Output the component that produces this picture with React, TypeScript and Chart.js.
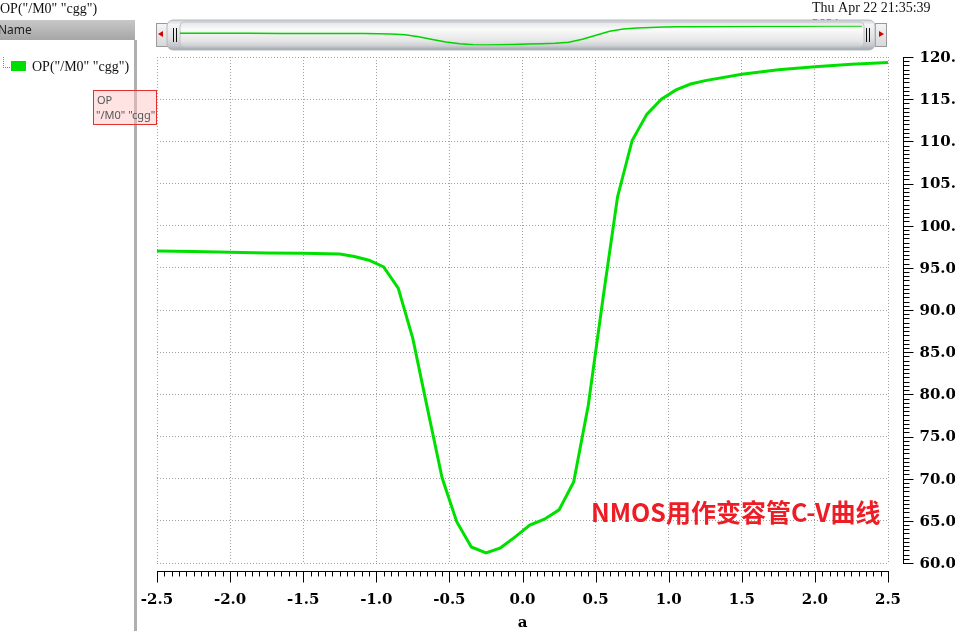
import React, { useEffect, useRef } from "react";
import { Chart, registerables } from "chart.js";

Chart.register(...registerables);

// ---- data ----
const xValues = [
  -2.5, -2.25, -2.0, -1.75, -1.5, -1.25, -1.15, -1.05, -0.95, -0.85, -0.75, -0.65,
  -0.55, -0.45, -0.35, -0.25, -0.15, -0.05, 0.05, 0.15, 0.25, 0.35, 0.45, 0.55,
  0.65, 0.75, 0.85, 0.95, 1.05, 1.15, 1.25, 1.5, 1.75, 2.0, 2.25, 2.5,
];
const cggValues = [
  97.0, 96.95, 96.85, 96.75, 96.72, 96.65, 96.35, 95.9, 95.1, 92.6, 86.6, 78.3,
  70.1, 64.9, 61.9, 61.2, 61.8, 63.1, 64.5, 65.2, 66.3, 69.6, 78.7, 91.3,
  103.4, 110.1, 113.2, 115.0, 116.1, 116.8, 117.2, 117.95, 118.5, 118.85, 119.13, 119.35,
];
const xTickValues = [-2.5, -2.0, -1.5, -1.0, -0.5, 0.0, 0.5, 1.0, 1.5, 2.0, 2.5];
const xTickLabels = ["-2.5", "-2.0", "-1.5", "-1.0", "-0.5", "0.0", "0.5", "1.0", "1.5", "2.0", "2.5"];
const yTickValues = [60, 65, 70, 75, 80, 85, 90, 95, 100, 105, 110, 115, 120];
const yTickLabels = ["60.0", "65.0", "70.0", "75.0", "80.0", "85.0", "90.0", "95.0", "100.0", "105.0", "110.0", "115.0", "120.0"];
const seriesName = 'OP("/M0" "cgg")';
const tooltipLines = ["OP", '"/M0" "cgg"'];
const xAxisTitle = "a";
const annotationText = "NMOS用作变容管C-V曲线";
const dateLine1 = "Thu Apr 22 21:35:39";
const dateLine2 = "2021";
const panelHeader = "Name";

const LINE_GREEN = "#00e000";
const AXIS_FONT = 'bold 15px "DejaVu Serif"';

function drawChrome(chart: any) {
  const ctx: CanvasRenderingContext2D = chart.ctx;
  const xs = chart.scales.x;
  const ys = chart.scales.y;
  const area = chart.chartArea;
  ctx.save();

  // ---- x axis ----
  const axY = Math.round(area.bottom + 8) + 0.5;
  ctx.strokeStyle = "#000";
  ctx.lineWidth = 1;
  ctx.beginPath();
  ctx.moveTo(Math.round(xs.getPixelForValue(xTickValues[0])), axY);
  ctx.lineTo(Math.round(xs.getPixelForValue(xTickValues[xTickValues.length - 1])) + 1, axY);
  for (let i = 0; i < xTickValues.length; i++) {
    const px = Math.round(xs.getPixelForValue(xTickValues[i])) + 0.5;
    ctx.moveTo(px, axY);
    ctx.lineTo(px, axY + 11);
    if (i < xTickValues.length - 1) {
      const step = (xTickValues[i + 1] - xTickValues[i]) / 10;
      for (let k = 1; k < 10; k++) {
        const mx = Math.round(xs.getPixelForValue(xTickValues[i] + step * k)) + 0.5;
        ctx.moveTo(mx, axY);
        ctx.lineTo(mx, axY + 5);
      }
    }
  }
  ctx.stroke();
  ctx.fillStyle = "#000";
  ctx.font = AXIS_FONT;
  ctx.textAlign = "center";
  ctx.textBaseline = "middle";
  xTickValues.forEach((v, i) => {
    ctx.fillText(xTickLabels[i], xs.getPixelForValue(v), 600);
  });
  ctx.textBaseline = "alphabetic";
  ctx.fillText(xAxisTitle, xs.getPixelForValue(0), 627);

  // ---- y axis (right) ----
  const axX = Math.round(area.right + 15) + 0.5;
  ctx.beginPath();
  ctx.moveTo(axX, Math.round(ys.getPixelForValue(yTickValues[yTickValues.length - 1])));
  ctx.lineTo(axX, Math.round(ys.getPixelForValue(yTickValues[0])) + 1);
  for (let i = 0; i < yTickValues.length; i++) {
    const py = Math.round(ys.getPixelForValue(yTickValues[i])) + 0.5;
    ctx.moveTo(axX, py);
    ctx.lineTo(axX + 10, py);
    if (i < yTickValues.length - 1) {
      const step = (yTickValues[i + 1] - yTickValues[i]) / 10;
      for (let k = 1; k < 10; k++) {
        const my = Math.round(ys.getPixelForValue(yTickValues[i] + step * k)) + 0.5;
        ctx.moveTo(axX, my);
        ctx.lineTo(axX + 6, my);
      }
    }
  }
  ctx.stroke();
  ctx.textAlign = "left";
  ctx.textBaseline = "middle";
  yTickValues.forEach((v, i) => {
    ctx.fillText(yTickLabels[i], axX + 16, ys.getPixelForValue(v) + 1);
  });

  // ---- annotation ----
  ctx.fillStyle = "#ee1c25";
  ctx.font = 'bold 25px "Noto Sans CJK SC"';
  ctx.textAlign = "left";
  ctx.textBaseline = "middle";
  ctx.fillText(annotationText, 591, 512);

  // ---- top texts ----
  ctx.fillStyle = "#111";
  ctx.font = '14px "Liberation Serif"';
  ctx.textBaseline = "alphabetic";
  ctx.fillText(seriesName, 0, 13);
  ctx.fillText(dateLine1, 812, 12);
  ctx.fillText(dateLine2, 812, 29);

  // ---- left panel ----
  const hg = ctx.createLinearGradient(0, 20, 0, 40);
  hg.addColorStop(0, "#c8c8c8");
  hg.addColorStop(1, "#a6a6a6");
  ctx.fillStyle = hg;
  ctx.fillRect(0, 20, 135, 20);
  ctx.fillStyle = "#222";
  ctx.font = '12px "Noto Sans"';
  ctx.fillText(panelHeader, -2, 34);
  ctx.fillStyle = "#b0b0b0";
  ctx.fillRect(134, 40, 3, 591);
  // tree dotted connector
  ctx.fillStyle = "#888";
  for (let y = 57; y <= 67; y += 2) ctx.fillRect(3, y, 1, 1);
  for (let x = 3; x <= 10; x += 2) ctx.fillRect(x, 67, 1, 1);
  ctx.fillStyle = "#00dd00";
  ctx.fillRect(11, 61, 15, 10);
  ctx.fillStyle = "#111";
  ctx.font = '14px "Liberation Serif"';
  ctx.fillText(seriesName, 32, 71);

  // ---- scrollbar ----
  const btn = (x0: number, dir: number) => {
    const g = ctx.createLinearGradient(0, 23, 0, 47);
    g.addColorStop(0, "#f6f6f6");
    g.addColorStop(1, "#d6d6d6");
    ctx.fillStyle = g;
    ctx.fillRect(x0, 23, 12, 24);
    ctx.strokeStyle = "#9a9a9a";
    ctx.lineWidth = 1;
    ctx.strokeRect(x0 + 0.5, 23.5, 11, 23);
    ctx.fillStyle = "#d40000";
    ctx.beginPath();
    if (dir < 0) {
      ctx.moveTo(x0 + 2, 34);
      ctx.lineTo(x0 + 7, 31);
      ctx.lineTo(x0 + 7, 37);
    } else {
      ctx.moveTo(x0 + 9, 34);
      ctx.lineTo(x0 + 4, 31);
      ctx.lineTo(x0 + 4, 37);
    }
    ctx.closePath();
    ctx.fill();
  };
  btn(156, -1);
  btn(875, 1);
  // thumb
  const tg = ctx.createLinearGradient(0, 20, 0, 50);
  tg.addColorStop(0, "#cdd1d8");
  tg.addColorStop(0.15, "#f4f4f4");
  tg.addColorStop(0.6, "#e2e2e2");
  tg.addColorStop(0.85, "#c4c7cc");
  tg.addColorStop(1, "#a2a6ae");
  ctx.fillStyle = tg;
  ctx.beginPath();
  (ctx as any).roundRect(167, 20, 708, 30, 6);
  ctx.fill();
  ctx.strokeStyle = "#b4b8c0";
  ctx.stroke();
  // inner channel
  const ig = ctx.createLinearGradient(0, 22, 0, 47);
  ig.addColorStop(0, "#e4e4e4");
  ig.addColorStop(0.3, "#fafafa");
  ig.addColorStop(0.75, "#e6e6e6");
  ig.addColorStop(1, "#c8cacd");
  ctx.fillStyle = ig;
  ctx.beginPath();
  (ctx as any).roundRect(180, 22, 684, 25, 4);
  ctx.fill();
  ctx.strokeStyle = "#bfc2c8";
  ctx.stroke();
  // grips
  ctx.fillStyle = "#111";
  ctx.fillRect(173, 28, 1, 14);
  ctx.fillRect(176, 28, 1, 14);
  ctx.fillRect(866, 28, 1, 14);
  ctx.fillRect(869, 28, 1, 14);

  // ---- tooltip box ----
  ctx.fillStyle = "rgba(255, 190, 190, 0.45)";
  ctx.fillRect(93, 90, 64, 35);
  ctx.strokeStyle = "#e03030";
  ctx.lineWidth = 1;
  ctx.strokeRect(93.5, 90.5, 63, 34);
  ctx.fillStyle = "#555";
  ctx.font = '11px "Noto Sans"';
  ctx.fillText(tooltipLines[0], 97, 104);
  ctx.fillText(tooltipLines[1], 96, 119);

  ctx.restore();
}

export default function App() {
  const mainRef = useRef<HTMLCanvasElement>(null);
  const miniRef = useRef<HTMLCanvasElement>(null);

  useEffect(() => {
    const points = xValues.map((x, i) => ({ x, y: cggValues[i] }));
    const gridCfg = { color: "#a0a0a0", lineWidth: 1, drawTicks: false };
    const borderCfg = { display: false, dash: [1, 2] };
    const main = new Chart(mainRef.current!, {
      type: "line",
      data: {
        datasets: [
          {
            label: seriesName,
            data: points,
            borderColor: LINE_GREEN,
            borderWidth: 3,
            pointRadius: 0,
            tension: 0,
            fill: false,
          },
        ],
      },
      options: {
        animation: false,
        responsive: false,
        events: [],
        layout: { padding: { left: 157, right: 67, top: 57, bottom: 68 } },
        plugins: { legend: { display: false }, tooltip: { enabled: false } },
        scales: {
          x: {
            type: "linear",
            min: -2.5,
            max: 2.5,
            ticks: { display: false, stepSize: 0.5 },
            grid: gridCfg,
            border: borderCfg,
          },
          y: {
            type: "linear",
            position: "right",
            min: 60,
            max: 120,
            ticks: { display: false, stepSize: 5 },
            grid: gridCfg,
            border: borderCfg,
          },
        },
      },
      plugins: [{ id: "chrome", afterDraw: drawChrome }],
    } as any);

    const mini = new Chart(miniRef.current!, {
      type: "line",
      data: {
        datasets: [
          {
            data: points,
            borderColor: "#00d400",
            borderWidth: 1.5,
            pointRadius: 0,
            tension: 0,
          },
        ],
      },
      options: {
        animation: false,
        responsive: false,
        events: [],
        layout: { padding: { left: 0, right: 0, top: 5.8, bottom: 4.6 } },
        plugins: { legend: { display: false }, tooltip: { enabled: false } },
        scales: {
          x: { type: "linear", min: -2.5, max: 2.5, display: false },
          y: { type: "linear", min: 60, max: 120, display: false },
        },
      },
    } as any);

    return () => {
      main.destroy();
      mini.destroy();
    };
  }, []);

  return (
    <div style={{ position: "fixed", left: 0, top: 0, width: 955, height: 631, background: "#fff", overflow: "hidden" }}>
      <canvas ref={mainRef} width={955} height={631} style={{ position: "absolute", left: 0, top: 0, width: 955, height: 631 }} />
      <canvas ref={miniRef} width={682} height={30} style={{ position: "absolute", left: 180, top: 20, width: 682, height: 30 }} />
    </div>
  );
}
